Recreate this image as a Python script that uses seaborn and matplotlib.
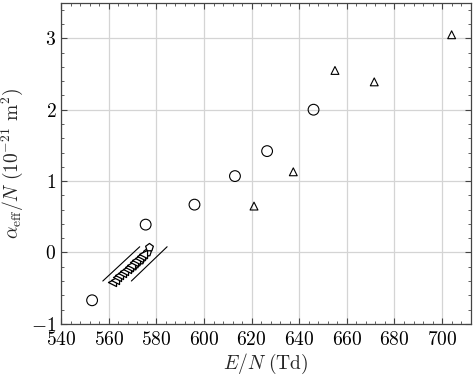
import matplotlib.pyplot as plt
import matplotlib.ticker as mticker
import seaborn as sns
import numpy as np

sns.set_style('ticks')
plt.rcParams['font.family'] = ['DejaVu Serif']
plt.rcParams['mathtext.fontset'] = 'cm'

# measurements, circles
circ_x = [553, 575.5, 596, 613, 626.5, 646]
circ_y = [-0.67, 0.39, 0.67, 1.07, 1.42, 2.00]

# measurements, triangles
tri_x = [621, 637.5, 655, 671.5, 704]
tri_y = [0.65, 1.13, 2.55, 2.39, 3.05]

# dense cluster, left-pointing markers
left_x = [561.5, 562.5, 563.5, 564.5, 565.5, 566.5, 567.5, 568.5, 569.5, 570.5, 571.5, 572.5, 573.5, 574.5]
left_y = [-0.41, -0.38, -0.35, -0.32, -0.29, -0.26, -0.23, -0.20, -0.17, -0.14, -0.11, -0.08, -0.05, -0.02]

# dense cluster, lower row
low_x = [569, 570, 571, 572, 573, 574, 575, 576, 577]
low_y = [-0.22, -0.19, -0.16, -0.13, -0.10, -0.07, -0.03, 0.01, 0.07]

# guide lines
line1_x = [557.5, 573]
line1_y = [-0.40, 0.08]
line2_x = [569.5, 584.5]
line2_y = [-0.40, 0.08]

fig, ax = plt.subplots()
fig.set_size_inches(4.74, 3.77)
fig.subplots_adjust(left=0.129, bottom=0.141, right=0.993, top=0.993)

ax.grid(True, which='major', color='#d4d4d4', linewidth=0.9)
ax.set_axisbelow(True)

sns.lineplot(x=line1_x, y=line1_y, color='black', linewidth=0.8, ax=ax)
sns.lineplot(x=line2_x, y=line2_y, color='black', linewidth=0.8, ax=ax)

sns.scatterplot(x=low_x, y=low_y, marker='p', s=34, facecolor='white', edgecolor='black', linewidth=0.9, ax=ax, zorder=3)
sns.scatterplot(x=left_x, y=left_y, marker='<', s=34, facecolor='white', edgecolor='black', linewidth=0.9, ax=ax, zorder=3)
sns.scatterplot(x=circ_x, y=circ_y, marker='o', s=60, facecolor='none', edgecolor='black', linewidth=0.8, ax=ax, zorder=3)
sns.scatterplot(x=tri_x, y=tri_y, marker='^', s=32, facecolor='none', edgecolor='black', linewidth=0.8, ax=ax, zorder=3)

ax.set_xlim(540, 712)
ax.set_ylim(-1, 3.5)
ax.xaxis.set_major_locator(mticker.MultipleLocator(20))
ax.xaxis.set_minor_locator(mticker.MultipleLocator(4))
ax.yaxis.set_major_locator(mticker.MultipleLocator(1))
ax.yaxis.set_minor_locator(mticker.MultipleLocator(0.2))
fmt = mticker.FuncFormatter(lambda v, p: '$%g$' % v)
ax.xaxis.set_major_formatter(fmt)
ax.yaxis.set_major_formatter(fmt)
ax.tick_params(which='both', direction='in', top=True, right=True, colors='#444444', labelcolor='black')
ax.tick_params(which='major', length=4, labelsize=14)
ax.tick_params(which='minor', length=2)
ax.tick_params(axis='x', which='major', pad=5)
for s in ax.spines.values():
    s.set_color('#444444')
    s.set_linewidth(0.9)

ax.set_xlabel(r'$E/N\ \mathrm{(Td)}$', fontsize=14, labelpad=2)
ax.set_ylabel(r'$\alpha_{\mathrm{eff}}/N\ (10^{-21}\ \mathrm{m}^{2})$', fontsize=14)

fig.savefig('out.png', dpi=100)
